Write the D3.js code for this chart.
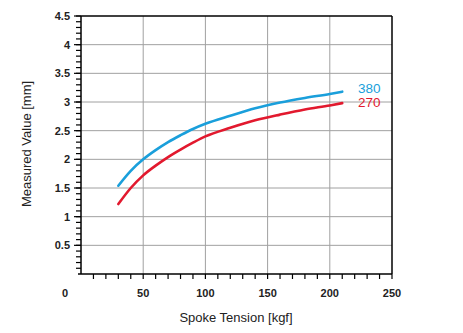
<!DOCTYPE html>
<html><head><meta charset="utf-8">
<script src="https://cdn.jsdelivr.net/npm/d3@7"></script>
<style>body{margin:0;background:#fff}svg{display:block}text{font-family:"Liberation Sans",Arial,sans-serif}</style>
</head><body>
<svg id="c" width="463" height="333"></svg>
<script>
const tension = [30, 40, 50, 60, 70, 80, 90, 100, 120, 140, 160, 180, 200, 210];
const val380 = [1.54, 1.80, 2.00, 2.16, 2.30, 2.42, 2.53, 2.62, 2.76, 2.89, 2.99, 3.07, 3.14, 3.18];
const val270 = [1.22, 1.50, 1.72, 1.89, 2.04, 2.17, 2.29, 2.40, 2.55, 2.68, 2.78, 2.87, 2.94, 2.98];
const seriesNames = ["380", "270"];
const seriesColors = ["#1a9fdb", "#e2192e"];
const xTicks = [50, 100, 150, 200, 250];
const yTicks = [0.5, 1, 1.5, 2, 2.5, 3, 3.5, 4, 4.5];

const svg = d3.select("#c");
const L = 81, R = 392, T = 16, B = 274;
const x = d3.scaleLinear().domain([0, 250]).range([L, R]);
const y = d3.scaleLinear().domain([0, 4.5]).range([B, T]);

// gridlines
svg.append("g").selectAll("line").data(xTicks.slice(0, -1)).join("line")
  .attr("x1", d => x(d)).attr("x2", d => x(d)).attr("y1", T).attr("y2", B)
  .attr("stroke", "#a0a0a0").attr("stroke-width", 1);
svg.append("g").selectAll("line").data(yTicks.slice(0, -1)).join("line")
  .attr("x1", L).attr("x2", R).attr("y1", d => y(d)).attr("y2", d => y(d))
  .attr("stroke", "#a0a0a0").attr("stroke-width", 1);

// frame
svg.append("line").attr("x1", L).attr("x2", R).attr("y1", T).attr("y2", T).attr("stroke", "#000").attr("stroke-width", 1.5);
svg.append("line").attr("x1", R).attr("x2", R).attr("y1", T).attr("y2", B).attr("stroke", "#000").attr("stroke-width", 1.5);

// minor ticks
const xMinor = d3.range(10, 251, 10);
svg.append("g").selectAll("line").data(xMinor).join("line")
  .attr("x1", d => x(d)).attr("x2", d => x(d)).attr("y1", B).attr("y2", B + 5)
  .attr("stroke", "#000").attr("stroke-width", 1.2);
const yMinor = d3.range(1, 46).map(i => i / 10);
svg.append("g").selectAll("line").data(yMinor).join("line")
  .attr("x1", L - 5).attr("x2", L).attr("y1", d => y(d)).attr("y2", d => y(d))
  .attr("stroke", "#000").attr("stroke-width", 1.2);
// major ticks
svg.append("g").selectAll("line").data(yTicks).join("line")
  .attr("x1", L - 7).attr("x2", L).attr("y1", d => y(d)).attr("y2", d => y(d))
  .attr("stroke", "#000").attr("stroke-width", 1.2);

// axes lines
svg.append("line").attr("x1", L).attr("x2", L).attr("y1", T).attr("y2", B).attr("stroke", "#000").attr("stroke-width", 1.5);
svg.append("line").attr("x1", L - 3).attr("x2", R).attr("y1", B).attr("y2", B).attr("stroke", "#000").attr("stroke-width", 1.5);

// tick labels
svg.append("g").selectAll("text").data(xTicks).join("text")
  .attr("x", d => x(d)).attr("y", 297).attr("text-anchor", "middle")
  .attr("font-size", 11).attr("font-weight", "bold").attr("fill", "#222").text(d => d);
svg.append("text").attr("x", 65).attr("y", 297).attr("text-anchor", "middle")
  .attr("font-size", 11).attr("font-weight", "bold").attr("fill", "#222").text("0");
svg.append("g").selectAll("text").data(yTicks).join("text")
  .attr("x", 70).attr("y", d => y(d) + 4).attr("text-anchor", "end")
  .attr("font-size", 11).attr("font-weight", "bold").attr("fill", "#222").text(d => d);

// axis titles
svg.append("text").attr("x", 236).attr("y", 322).attr("text-anchor", "middle")
  .attr("font-size", 13).attr("fill", "#222").text("Spoke Tension [kgf]");
svg.append("text").attr("transform", "translate(31,144) rotate(-90)").attr("text-anchor", "middle")
  .attr("font-size", 13).attr("fill", "#222").text("Measured Value [mm]");

// curves
const line = d3.line().x(d => x(d[0])).y(d => y(d[1])).curve(d3.curveMonotoneX);
const labelDy = [1.5, 4];
[val380, val270].forEach((vals, i) => {
  svg.append("path").datum(tension.map((t, j) => [t, vals[j]]))
    .attr("d", line).attr("fill", "none").attr("stroke", seriesColors[i])
    .attr("stroke-width", 2.6).attr("stroke-linecap", "round");
  svg.append("text").attr("x", 358).attr("y", y(vals[vals.length - 1]) + labelDy[i])
    .attr("font-size", 13.5).attr("fill", seriesColors[i]).text(seriesNames[i]);
});
</script>
</body></html>
